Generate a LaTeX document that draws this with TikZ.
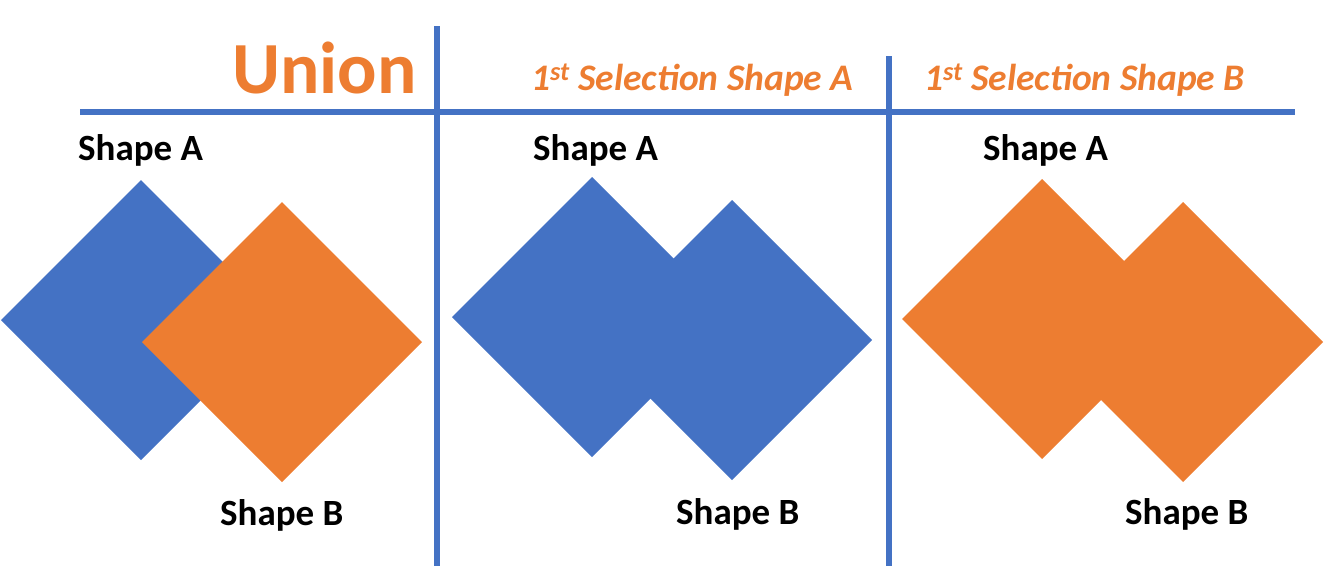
\documentclass[tikz,border=0pt]{standalone}
\usepackage{fontspec}
\setmainfont{Carlito}
\definecolor{myblue}{HTML}{4472C4}
\definecolor{myorange}{HTML}{ED7D31}
\begin{document}
\begin{tikzpicture}[x=1pt,y=-1pt,
  rule/.style={draw=myblue,line width=6.5pt},
  lbl/.style={anchor=base west,inner sep=0pt,font=\fontsize{37}{37}\selectfont\bfseries},
  ttl/.style={anchor=base west,inner sep=0pt,text=myorange,font=\fontsize{37.5}{37.5}\selectfont\bfseries\itshape},
  bluefill/.style={fill=myblue},
  orangefill/.style={fill=myorange}]
\useasboundingbox (0,0) rectangle (1324,566);
% shapes
\fill[bluefill] (141,180) -- (281,320) -- (141,460) -- (1,320) -- cycle;
\fill[orangefill] (282,202) -- (422,342) -- (282,482) -- (142,342) -- cycle;
\fill[bluefill] (592,177) -- (732,317) -- (592,457) -- (452,317) -- cycle;
\fill[bluefill] (732,200) -- (872,340) -- (732,480) -- (592,340) -- cycle;
\fill[orangefill] (1042,179) -- (1182,319) -- (1042,459) -- (902,319) -- cycle;
\fill[orangefill] (1183,202) -- (1323,342) -- (1183,482) -- (1043,342) -- cycle;
% rules
\coordinate (h1) at (80,112);
\coordinate (h2) at (1295,112);
\coordinate (v1t) at (437,26);
\coordinate (v1b) at (437,566);
\coordinate (v2t) at (889,56);
\coordinate (v2b) at (889,566);
\draw[rule] (h1) -- (h2);
\draw[rule] (v1t) -- (v1b);
\draw[rule] (v2t) -- (v2b);
% titles
\node[anchor=base west,inner sep=0pt,text=myorange,font=\fontsize{73.5}{73.5}\selectfont\bfseries] (union) at (232,93) {Union};
\node[ttl] (tA) at (531,90) {1\textsuperscript{st} Selection Shape A};
\node[ttl] (tB) at (924,90) {1\textsuperscript{st} Selection Shape B};
% labels
\node[lbl] (a1) at (78,160) {Shape A};
\node[lbl] (a2) at (533,160) {Shape A};
\node[lbl] (a3) at (983,160) {Shape A};
\node[lbl] (b1) at (220,525) {Shape B};
\node[lbl] (b2) at (676,524) {Shape B};
\node[lbl] (b3) at (1125,524) {Shape B};
\end{tikzpicture}
\end{document}
